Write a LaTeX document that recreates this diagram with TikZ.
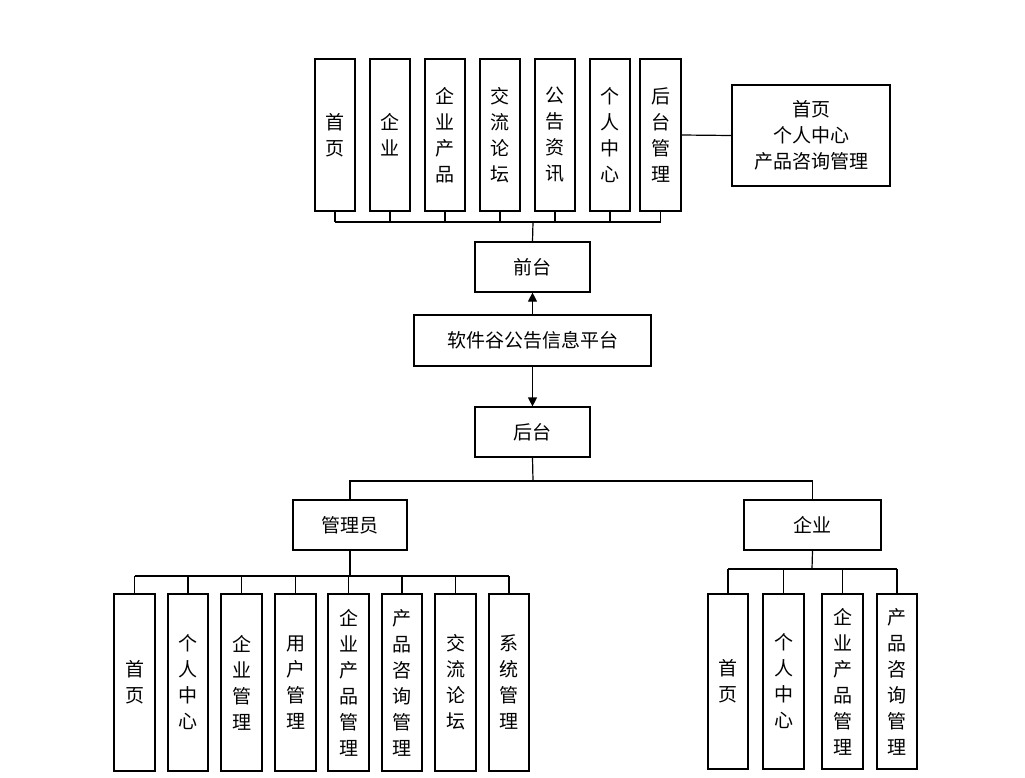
\documentclass[tikz,border=0pt]{standalone}
\usepackage{fontspec}
\newfontfamily\cjk{Noto Sans CJK SC}
\usetikzlibrary{arrows.meta}
\begin{document}
\begin{tikzpicture}[x=1pt,y=-1pt,
 bx/.style={draw,line width=1.2pt,inner sep=0pt,font=\cjk\fontsize{19}{26}\selectfont,align=center},
 ln/.style={line width=1.2pt}]
\useasboundingbox (0,0) rectangle (1025,777);
\newcommand{\vb}[6]{\node[bx,minimum width=#3-#2,minimum height=#5-#4] (#1) at ({(#2+#3)/2},{(#4+#5)/2}) {#6};}
% top row
\vb{t1}{315}{355}{59}{211}{首\\页}
\vb{t2}{370}{410}{59}{211}{企\\业}
\vb{t3}{425}{465}{59}{211}{企\\业\\产\\品}
\vb{t4}{480}{520}{59}{211}{交\\流\\论\\坛}
\vb{t5}{535}{575}{59}{211}{公\\告\\资\\讯}
\vb{t6}{590}{630}{59}{211}{个\\人\\中\\心}
\vb{t7}{640}{681}{59}{211}{后\\台\\管\\理}
\vb{tr}{732}{890}{85}{186}{首页\\个人中心\\产品咨询管理}
\draw[ln] (t7.east) -- (tr.west);
\vb{qt}{475}{590}{242}{292}{前台}
\vb{pf}{414}{651}{315}{366}{软件谷公告信息平台}
\vb{ht}{475}{590}{407}{457}{后台}
\coordinate (bt) at (533,222);
\foreach \n in {t1,t2,t3,t4,t5,t6,t7}{\draw[ln] (\n.south) -- (\n.south |- bt);}
\draw[ln] (t1.south |- bt) -- (t7.south |- bt);
\draw[ln] (bt) -- (qt.north);
\draw[ln,-{Triangle[length=9pt,width=9pt]}] (pf.north) -- (qt.south);
\draw[ln,-{Triangle[length=9pt,width=9pt]}] (pf.south) -- (ht.north);
\vb{gl}{293}{407}{500}{550}{管理员}
\vb{qy}{744}{881}{500}{550}{企业}
\coordinate (hb) at (533,481);
\draw[ln] (ht.south) -- (hb);
\draw[ln] (gl.north) -- (gl.north |- hb) -- (qy.north |- hb) -- (qy.north);
% admin
\vb{a1}{114}{155}{594}{771}{首\\页}
\vb{a2}{168}{208}{594}{771}{个\\人\\中\\心}
\vb{a3}{221}{262}{594}{771}{企\\业\\管\\理}
\vb{a4}{275}{316}{594}{771}{用\\户\\管\\理}
\vb{a5}{328}{369}{594}{771}{企\\业\\产\\品\\管\\理}
\vb{a6}{382}{422}{594}{771}{产\\品\\咨\\询\\管\\理}
\vb{a7}{435}{476}{594}{771}{交\\流\\论\\坛}
\vb{a8}{489}{529}{594}{771}{系\\统\\管\\理}
\coordinate (ab) at (350,576);
\draw[ln] (gl.south) -- (ab);
\foreach \n in {a1,a2,a3,a4,a5,a6,a7,a8}{\draw[ln] (\n.north) -- (\n.north |- ab);}
\draw[ln] (a1.north |- ab) -- (a8.north |- ab);
% enterprise
\vb{e1}{708}{748}{594}{769}{首\\页}
\vb{e2}{763}{804}{594}{769}{个\\人\\中\\心}
\vb{e3}{822}{863}{594}{769}{企\\业\\产\\品\\管\\理}
\vb{e4}{877}{917}{594}{769}{产\\品\\咨\\询\\管\\理}
\coordinate (eb) at (812,569);
\draw[ln] (qy.south) -- (eb);
\foreach \n in {e1,e2,e3,e4}{\draw[ln] (\n.north) -- (\n.north |- eb);}
\draw[ln] (e1.north |- eb) -- (e4.north |- eb);
\end{tikzpicture}
\end{document}
